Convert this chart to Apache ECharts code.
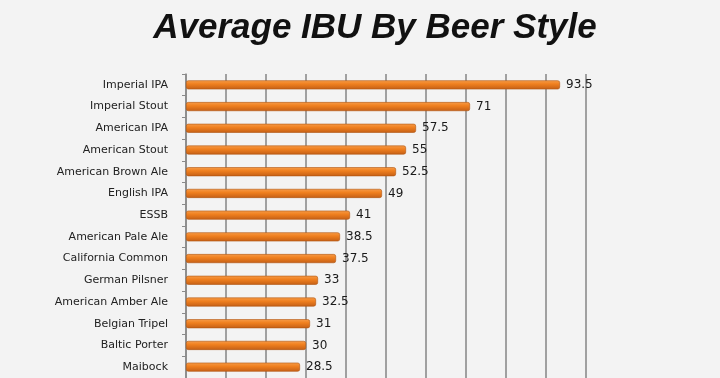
<!DOCTYPE html>
<html>
<head>
<meta charset="utf-8">
<title>Average IBU By Beer Style</title>
<script src="https://cdn.jsdelivr.net/npm/echarts@6/dist/echarts.min.js"></script>
<style>
  html, body { margin: 0; padding: 0; background: #f3f3f3; }
  #chart { width: 720px; height: 378px; }
</style>
</head>
<body>
<div id="chart"></div>
<script>
// beer styles, top to bottom (the picture is cut off after Maibock)
const styles = [
  'Imperial IPA', 'Imperial Stout', 'American IPA', 'American Stout',
  'American Brown Ale', 'English IPA', 'ESSB', 'American Pale Ale',
  'California Common', 'German Pilsner', 'American Amber Ale',
  'Belgian Tripel', 'Baltic Porter', 'Maibock'
];
// average IBU per style
const ibu = [93.5, 71, 57.5, 55, 52.5, 49, 41, 38.5, 37.5, 33, 32.5, 31, 30, 28.5];
// value axis ticks (labels are not visible in the picture)
const ibuTicks = [0, 10, 20, 30, 40, 50, 60, 70, 80, 90, 100];

const chart = echarts.init(document.getElementById('chart'));

// orange bar with a bit of shading like the 3D excel bars
const barColor = new echarts.graphic.LinearGradient(0, 0, 0, 1, [
  { offset: 0, color: '#f69c4a' },
  { offset: 0.4, color: '#f0801f' },
  { offset: 1, color: '#c45f16' }
]);

const option = {
  backgroundColor: '#f3f3f3',
  animation: false,
  title: {
    text: 'Average IBU By Beer Style',
    left: 370,
    textAlign: 'center',
    top: 6,
    textStyle: {
      fontFamily: 'Liberation Sans',
      fontStyle: 'italic',
      fontWeight: 'bold',
      fontSize: 35,
      color: '#111'
    }
  },
  grid: {
    left: 186,
    right: 134,
    top: 74,
    bottom: -9  // chart continues below the visible area
  },
  xAxis: {
    type: 'value',
    min: ibuTicks[0],
    max: ibuTicks[ibuTicks.length - 1],
    interval: ibuTicks[1] - ibuTicks[0],
    axisLabel: { show: false },
    axisTick: { show: false },
    axisLine: { show: false },
    splitLine: {
      show: true,
      lineStyle: { color: '#858585', width: 1.5 }
    }
  },
  yAxis: {
    type: 'category',
    data: styles,
    inverse: true,
    axisLine: { show: true, lineStyle: { color: '#8a8a8a', width: 1.5 } },
    axisTick: { show: true, length: 4, lineStyle: { color: '#8a8a8a' } },
    axisLabel: {
      margin: 18,
      padding: [5, 0, 0, 0],
      fontFamily: 'DejaVu Sans',
      fontSize: 11,
      color: '#222'
    }
  },
  series: [{
    type: 'bar',
    data: ibu,
    barWidth: 9,
    itemStyle: {
      color: barColor,
      borderColor: '#b0540f',
      borderWidth: 0.6,
      borderRadius: 2
    },
    label: {
      show: true,
      position: 'right',
      distance: 6,
      padding: [5, 0, 0, 0],
      fontFamily: 'DejaVu Sans',
      fontSize: 12,
      color: '#1a1a1a'
    }
  }]
};

chart.setOption(option);
window.addEventListener('resize', () => chart.resize());
</script>
</body>
</html>
